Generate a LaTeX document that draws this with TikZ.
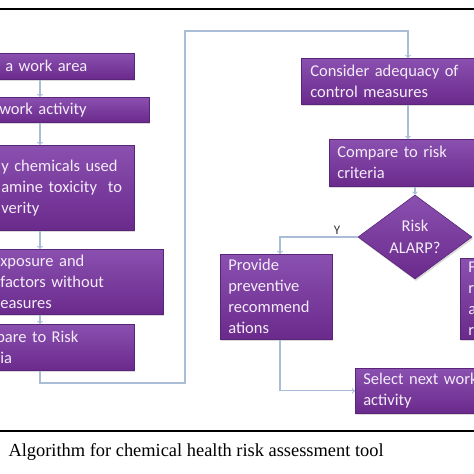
\documentclass[tikz,border=0pt]{standalone}
\usepackage{fontspec}
\setmainfont{Liberation Serif}
\setsansfont{Carlito}
\usetikzlibrary{shapes.geometric,shadows}
\definecolor{boxtop}{HTML}{8A50B0}
\definecolor{boxbot}{HTML}{6A2A8C}
\definecolor{boxline}{HTML}{5A2478}
\definecolor{boxtext}{HTML}{F4ECF8}
\definecolor{flowline}{HTML}{A9BDD6}
\tikzset{
  stepbox/.style={rectangle, draw=boxline, line width=0.6pt, top color=boxtop,
    bottom color=boxbot, text=boxtext, align=left, anchor=north west,
    inner xsep=10pt, inner ysep=2pt,
    font=\sffamily\fontsize{16.5}{21}\selectfont,
    drop shadow={opacity=0.3, shadow xshift=1pt, shadow yshift=-2pt}},
  decision/.style={diamond, draw=boxline, line width=0.6pt, top color=boxtop,
    bottom color=boxbot, text=boxtext, align=center, inner sep=0pt,
    minimum width=114pt, minimum height=84pt, aspect=1.36,
    font=\sffamily\fontsize{16.5}{22}\selectfont,
    drop shadow={opacity=0.3, shadow xshift=1pt, shadow yshift=-2pt}},
  flow/.style={draw=flowline, line width=1.1pt, ->}
}
\begin{document}
\begin{tikzpicture}[x=1pt, y=-1pt]
    \useasboundingbox (0,0) rectangle (474,474);
    \clip (0,0) rectangle (474,474);
    % Reglas de la figura
    \draw[line width=2pt] (0,9) -- (474,9);
    \draw[line width=1.4pt] (0,431) -- (474,431);
    % Columna izquierda (cortada por el borde)
    \node[stepbox, inner xsep=15pt, text width=114pt, minimum height=26pt] (area) at (-10,53) {a work area};
    \node[stepbox, inner xsep=9pt, text width=141pt, minimum height=25pt] (activity) at (-10,97) {work activity};
    \node[stepbox, inner xsep=11pt, text width=122pt, minimum height=85pt] (chem) at (-10,145)
      {y chemicals used\\amine toxicity~ to\\verity};
    \node[stepbox, text width=153pt, minimum height=65pt] (expo) at (-10,249)
      {xposure and\\factors without\\easures};
    \node[stepbox, inner xsep=6pt, text width=132pt, minimum height=46pt] (riskcmp) at (-10,324)
      {pare to Risk\\\hspace*{4pt}ia};
    % Columna derecha
    \node[stepbox, inner xsep=9pt, text width=181pt, minimum height=46pt] (consider) at (301,58)
      {Consider adequacy of\\control measures};
    \node[stepbox, inner xsep=8pt, text width=175pt, minimum height=47pt] (criteria) at (329,139)
      {Compare to risk\\criteria};
    \node[decision] (alarp) at (415,237) {Risk\\ALARP?};
    \node[font=\sffamily\fontsize{13}{13}\selectfont, text=black!80] (ylab) at (337,230) {Y};
    \node[stepbox, inner xsep=8pt, text width=96pt, minimum height=85pt] (provide) at (220,254)
      {Provide\\preventive\\recommend\\ations};
    \node[stepbox, inner xsep=8pt, text width=44pt, minimum height=81pt] (further) at (460,258)
      {F\\r\\a\\r};
    \node[stepbox, inner xsep=8pt, text width=149pt, minimum height=45pt] (select) at (355,368)
      {Select next work\\activity};
    % Leyenda
    \node[anchor=west, font=\fontsize{18.4}{20}\selectfont] (caption) at (5,452)
      {Algorithm for chemical health risk assessment tool};
    % Conectores
    \coordinate (spine) at (40,0);
    \coordinate (rspine) at (408,0);
    \coordinate (pspine) at (280,0);
    \coordinate (loopbot) at (185,383);
    \coordinate (looptop) at (185,31);
    \draw[flow] (area.south -| spine) -- (activity.north -| spine);
    \draw[flow] (activity.south -| spine) -- (chem.north -| spine);
    \draw[flow] (chem.south -| spine) -- (expo.north -| spine);
    \draw[flow] (expo.south -| spine) -- (riskcmp.north -| spine);
    \draw[flow] (riskcmp.south -| spine) |- (loopbot) -- (looptop) -| (consider.north -| rspine);
    \draw[flow] (consider.south -| rspine) -- (criteria.north -| rspine);
    \draw[flow] (criteria.south -| alarp.north) -- (alarp.north);
    \draw[flow] (alarp.west) -| (provide.north -| pspine);
    \draw[flow] (provide.south -| pspine) |- (select.west);
\end{tikzpicture}
\end{document}
